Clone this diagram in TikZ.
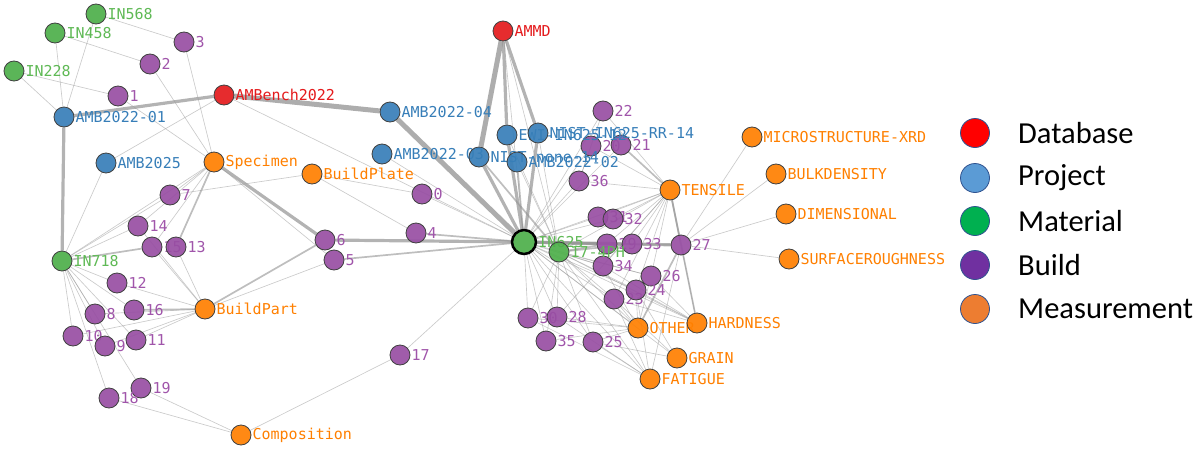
\documentclass[tikz,border=0pt]{standalone}
\usepackage{fontspec}
\newfontfamily\lblfont{DejaVu Sans Mono}
\newfontfamily\legfont{Carlito}
\pgfdeclarelayer{bg}
\pgfsetlayers{bg,main}
\definecolor{cR}{RGB}{228,26,28}
\definecolor{cB}{RGB}{55,126,184}
\definecolor{cG}{RGB}{77,175,74}
\definecolor{cP}{RGB}{152,78,163}
\definecolor{cO}{RGB}{255,127,0}
\definecolor{tG}{RGB}{95,185,85}
\definecolor{tP}{RGB}{160,85,170}
\definecolor{LR}{RGB}{255,0,0}
\definecolor{LB}{RGB}{91,155,213}
\definecolor{LG}{RGB}{0,176,80}
\definecolor{LP}{RGB}{112,48,160}
\definecolor{LO}{RGB}{237,125,49}
\definecolor{LE}{RGB}{47,82,143}
\definecolor{eg}{RGB}{150,150,150}
\tikzset{
  nd/.style={circle, minimum size=20pt, inner sep=0pt, draw=black!75, line width=0.8pt, fill opacity=0.92},
  lab/.style={font=\lblfont\fontsize{15}{18}\selectfont, inner sep=1pt, label distance=0pt},
  e/.style={draw=eg, line width=0.65pt, opacity=0.5},
  em/.style={draw=eg, line width=1.7pt, opacity=0.62},
  ek/.style={draw=eg, line width=3.2pt, opacity=0.72},
  eK/.style={draw=eg, line width=5pt, opacity=0.78},
  leg/.style={circle, minimum size=29pt, inner sep=0pt, draw=LE, line width=0.8pt},
  legt/.style={font=\legfont\fontsize{30.5}{34}\selectfont, anchor=west, inner sep=0pt}
}
\newcommand\nn[5]{\node[nd, fill=#2, label={[lab,text=#3]right:#5}] (#1) at (#4) {};}
\begin{document}
\begin{tikzpicture}[x=1pt,y=-1pt]
\useasboundingbox (0,0) rectangle (1200,450);
% --- left cluster
\nn{IN568}{cG}{tG}{96,14}{IN568}
\nn{IN458}{cG}{tG}{55,33}{IN458}
\nn{IN228}{cG}{tG}{14,71}{IN228}
\nn{n3}{cP}{tP}{184,42}{3}
\nn{n2}{cP}{tP}{150,64}{2}
\nn{n1}{cP}{tP}{118,96}{1}
\nn{AMBench}{cR}{cR}{224,95}{AMBench2022}
\nn{A01}{cB}{cB}{64,117}{AMB2022-01}
\nn{A25}{cB}{cB}{106,163}{AMB2025}
\nn{Specimen}{cO}{cO}{214,162}{Specimen}
\nn{BuildPlate}{cO}{cO}{312,174}{BuildPlate}
\nn{n7}{cP}{tP}{170,195}{7}
\nn{n14}{cP}{tP}{138,226}{14}
\nn{n15}{cP}{tP}{152,247}{15}
\nn{n13}{cP}{tP}{176,247}{13}
\nn{IN718}{cG}{tG}{62,261}{IN718}
\nn{n12}{cP}{tP}{117,283}{12}
\nn{n8}{cP}{tP}{95,314}{8}
\nn{n16}{cP}{tP}{134,310}{16}
\nn{BuildPart}{cO}{cO}{205,309}{BuildPart}
\nn{n10}{cP}{tP}{73,336}{10}
\nn{n9}{cP}{tP}{105,346}{9}
\nn{n11}{cP}{tP}{136,340}{11}
\nn{n19}{cP}{tP}{141,388}{19}
\nn{n18}{cP}{tP}{109,398}{18}
\nn{Composition}{cO}{cO}{241,435}{Composition}
% --- middle
\nn{AMMD}{cR}{cR}{503,31}{AMMD}
\nn{A04}{cB}{cB}{390,112}{AMB2022-04}
\nn{A03}{cB}{cB}{382,154}{AMB2022-03}
\nn{n0}{cP}{tP}{422,194}{0}
\nn{n6}{cP}{tP}{325,240}{6}
\nn{n4}{cP}{tP}{416,233}{4}
\nn{n5}{cP}{tP}{334,260}{5}
\nn{n17}{cP}{tP}{400,355}{17}
% --- right cluster
\nn{n22}{cP}{tP}{603,111}{22}
\nn{n20}{cP}{tP}{591,146}{20}
\nn{n21}{cP}{tP}{621,145}{21}
\nn{B2}{cB}{cB}{507,135}{EWI-IN625-12}
\nn{B3}{cB}{cB}{538,133}{NIST-IN625-RR-14}
\nn{B1}{cB}{cB}{479,157}{NIST-none-14}
\nn{B4}{cB}{cB}{517,162}{AMB2022-02}
\nn{n36}{cP}{tP}{579,181}{36}
\nn{n31}{cP}{tP}{598,217}{31}
\nn{n32}{cP}{tP}{613,219}{32}
\nn{n29}{cP}{tP}{607,244}{29}
\nn{n33}{cP}{tP}{632,244}{33}
\nn{n27}{cP}{tP}{681,245}{27}
\nn{n34}{cP}{tP}{603,266}{34}
\nn{n26}{cP}{tP}{651,276}{26}
\nn{n23}{cP}{tP}{614,299}{23}
\nn{n24}{cP}{tP}{636,290}{24}
\nn{n30}{cP}{tP}{528,318}{30}
\nn{n28}{cP}{tP}{557,317}{28}
\nn{n35}{cP}{tP}{546,341}{35}
\nn{n25}{cP}{tP}{593,342}{25}
\node[nd, minimum size=24pt, draw=black, line width=2.5pt, fill=cG, label={[lab,text=tG]right:IN625}] (IN625) at (524,242) {};
\nn{PH}{cG}{tG}{559,252}{17-4PH}
\nn{TENSILE}{cO}{cO}{670,190}{TENSILE}
\nn{MXRD}{cO}{cO}{752,137}{MICROSTRUCTURE-XRD}
\nn{BULK}{cO}{cO}{776,174}{BULKDENSITY}
\nn{DIM}{cO}{cO}{786,214}{DIMENSIONAL}
\nn{SURF}{cO}{cO}{789,259}{SURFACEROUGHNESS}
\nn{OTHER}{cO}{cO}{638,328}{OTHER}
\nn{HARD}{cO}{cO}{697,323}{HARDNESS}
\nn{GRAIN}{cO}{cO}{677,358}{GRAIN}
\nn{FAT}{cO}{cO}{650,379}{FATIGUE}
% --- edges
\begin{pgfonlayer}{bg}
\foreach \a/\b in {IN568/n3, IN568/A01, IN458/A01, IN458/n2, IN228/A01, IN228/n1,
  n1/Specimen, n2/Specimen, n3/Specimen, AMBench/A25, AMBench/IN625, A25/IN718,
  IN718/n7, IN718/n14, IN718/Specimen, Specimen/n7, Specimen/n14, Specimen/n15, Specimen/n5,
  BuildPlate/n7, BuildPlate/n4, BuildPlate/n0, n15/BuildPart, n13/BuildPart, n14/BuildPart,
  IN718/n12, IN718/n8, IN718/n16, IN718/n10, IN718/n9, IN718/n11, IN718/n19, IN718/n18,
  n12/BuildPart, n8/BuildPart, n10/BuildPart, n11/BuildPart, n9/BuildPart, BuildPart/n5,
  n18/Composition, n19/Composition, n17/Composition, n17/IN625, n0/IN625, A03/IN625,
  AMMD/IN625, AMMD/PH, B4/PH, B3/PH, B2/PH,
  IN625/n22, IN625/n20, IN625/n21, IN625/n36, IN625/n31, IN625/n32, IN625/n34, IN625/n26,
  IN625/n24, IN625/n23, IN625/n30, IN625/n28, IN625/n35, IN625/n25, IN625/TENSILE, IN625/OTHER,
  IN625/FAT, IN625/GRAIN, IN625/HARD,
  PH/n34, PH/n26, PH/n24, PH/n23, PH/n28, PH/n30, PH/n35, PH/n25, PH/OTHER, PH/FAT, PH/TENSILE, PH/HARD,
  TENSILE/n22, TENSILE/n20, TENSILE/n36, TENSILE/n31, TENSILE/n32, TENSILE/n29, TENSILE/n33,
  TENSILE/n34, TENSILE/n26, TENSILE/n24, TENSILE/n23, TENSILE/n28,
  n27/MXRD, n27/BULK, n27/DIM, n27/SURF, n27/HARD, n27/FAT,
  OTHER/n30, OTHER/n28, OTHER/n35, OTHER/n25, OTHER/n23, OTHER/n24, OTHER/n26, OTHER/n34,
  FAT/n28, FAT/n25, FAT/n23, FAT/n24, FAT/n30, GRAIN/n25, GRAIN/n24, GRAIN/n23,
  HARD/n24, HARD/n26, HARD/n23, HARD/n34, n22/n36, n20/n36}
  {\draw[e] (\a) -- (\b);}
\foreach \a/\b in {IN718/n15, Specimen/n13, BuildPart/n6, n16/BuildPart, n4/IN625, n5/IN625,
  B4/IN625, B1/PH, PH/n29, PH/n33, IN625/n27, TENSILE/n21, TENSILE/n27, n27/OTHER, TENSILE/HARD}
  {\draw[em] (\a) -- (\b);}
\foreach \a/\b in {A01/AMBench, A01/IN718, Specimen/n6, n6/IN625, AMMD/B2, AMMD/B3,
  B1/IN625, B2/IN625, B3/IN625, IN625/n29, IN625/n33, n33/n27}
  {\draw[ek] (\a) -- (\b);}
\foreach \a/\b in {AMBench/A04, A04/IN625, AMMD/B1}
  {\draw[eK] (\a) -- (\b);}
\end{pgfonlayer}
% --- legend
\node[leg, fill=LR] (lg1) at (975,133) {};
\node[leg, fill=LB] (lg2) at (975,178) {};
\node[leg, fill=LG] (lg3) at (975,221) {};
\node[leg, fill=LP] (lg4) at (975,265) {};
\node[leg, fill=LO] (lg5) at (975,309) {};
\node[legt] (lt1) at (1018,133) {Database};
\node[legt] (lt2) at (1018,178) {Project};
\node[legt] (lt3) at (1018,221) {Material};
\node[legt] (lt4) at (1018,265) {Build};
\node[legt] (lt5) at (1018,309) {Measurement};
\end{tikzpicture}
\end{document}
